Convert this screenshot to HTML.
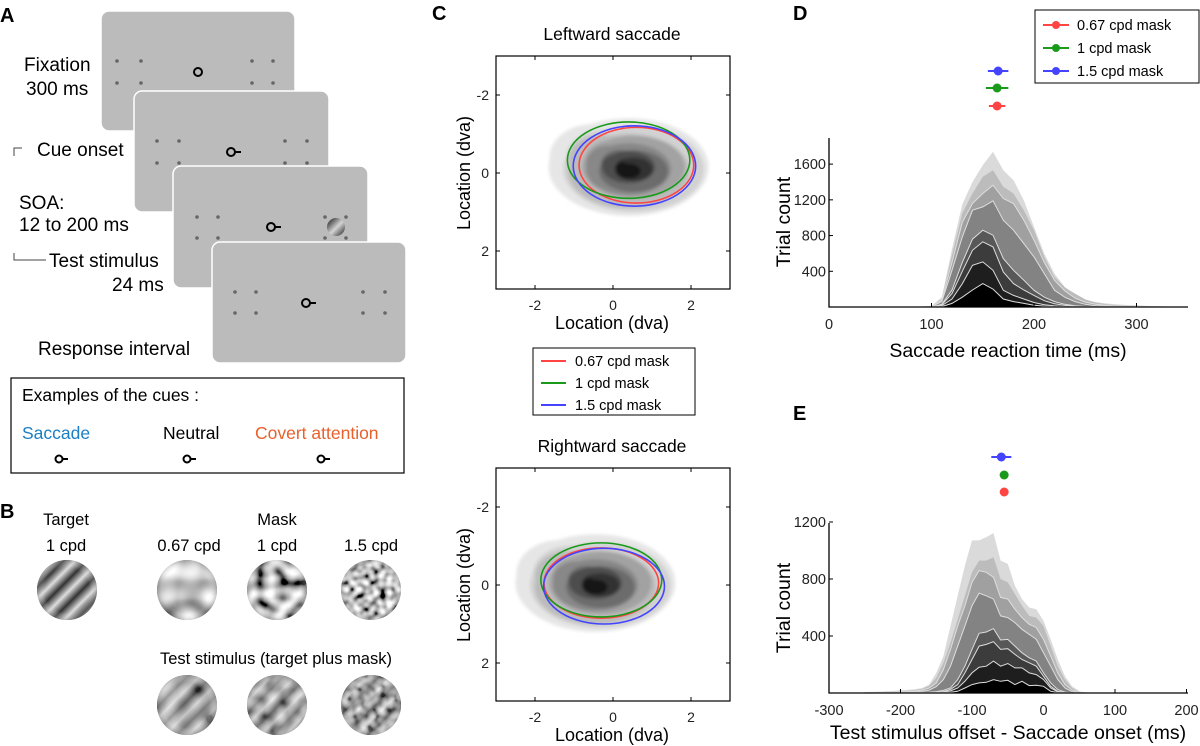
<!DOCTYPE html>
<html><head><meta charset="utf-8"><style>
body{margin:0;background:#fff}
svg{display:block;font-family:"Liberation Sans",sans-serif}
</style></head><body>
<svg id="fig" width="1200" height="746" viewBox="0 0 1200 746" xmlns="http://www.w3.org/2000/svg">
<defs>
<filter id="n1" x="0" y="0" width="100%" height="100%"><feTurbulence type="fractalNoise" baseFrequency="0.05" numOctaves="1" seed="3"/><feColorMatrix type="matrix" values="2.6 0 0 0 -0.8 2.6 0 0 0 -0.8 2.6 0 0 0 -0.8 0 0 0 0 1"/></filter>
<filter id="n2" x="0" y="0" width="100%" height="100%"><feTurbulence type="fractalNoise" baseFrequency="0.09" numOctaves="1" seed="5"/><feColorMatrix type="matrix" values="2.3 0 0 0 -0.65 2.3 0 0 0 -0.65 2.3 0 0 0 -0.65 0 0 0 0 1"/></filter>
<filter id="n3" x="0" y="0" width="100%" height="100%"><feTurbulence type="fractalNoise" baseFrequency="0.15" numOctaves="1" seed="8"/><feColorMatrix type="matrix" values="2.5 0 0 0 -0.75 2.5 0 0 0 -0.75 2.5 0 0 0 -0.75 0 0 0 0 1"/></filter>
<linearGradient id="stripe" gradientUnits="userSpaceOnUse" x1="0" y1="0" x2="12" y2="12" spreadMethod="repeat">
<stop offset="0" stop-color="#333"/><stop offset="0.5" stop-color="#ddd"/><stop offset="1" stop-color="#333"/></linearGradient>
<radialGradient id="vig"><stop offset="0.75" stop-color="#fff" stop-opacity="0"/><stop offset="1" stop-color="#999" stop-opacity="0.4"/></radialGradient>
<filter id="blur3"><feGaussianBlur stdDeviation="1.5"/></filter>
</defs>

<!-- Panel A -->
<g font-size="19">
<text x="0" y="22" font-size="20" font-weight="bold">A</text>
<g><rect x="101" y="11" width="194" height="120" rx="8" fill="#bbb" stroke="#fff" stroke-width="1.5"/></g>
<g><rect x="134" y="91" width="195" height="121" rx="8" fill="#bbb" stroke="#fff" stroke-width="1.5"/></g>
<g><rect x="173" y="166" width="195" height="122" rx="8" fill="#bbb" stroke="#fff" stroke-width="1.5"/></g>
<g><rect x="212" y="242" width="194" height="121" rx="8" fill="#bbb" stroke="#fff" stroke-width="1.5"/></g>
<g id="dots" fill="#666"></g>
<circle cx="198" cy="72" r="4" fill="none" stroke="#000" stroke-width="2"/>
<g stroke="#000" stroke-width="2" fill="none">
<circle cx="231" cy="152" r="4"/><line x1="235" y1="152" x2="241" y2="152"/>
<circle cx="271" cy="227" r="4"/><line x1="275" y1="227" x2="281" y2="227"/>
<circle cx="306" cy="303" r="4"/><line x1="310" y1="303" x2="316" y2="303"/>
</g>
<circle cx="336" cy="227" r="9" fill="url(#stripe)" opacity="0.75"/>
<text x="24" y="71">Fixation</text>
<text x="26" y="95">300 ms</text>
<path d="M14 156 V148 H22" fill="none" stroke="#444" stroke-width="1"/>
<text x="37" y="156">Cue onset</text>
<text x="19" y="209">SOA:</text>
<text x="19" y="231">12 to 200 ms</text>
<path d="M14 253 V260 H46" fill="none" stroke="#444" stroke-width="1"/>
<text x="49" y="267">Test stimulus</text>
<text x="112" y="291">24 ms</text>
<text x="38" y="355">Response interval</text>
<g font-size="17.5">
<rect x="11" y="378" width="393" height="95" fill="#fff" stroke="#000" stroke-width="1.2"/>
<text x="22" y="401">Examples of the cues :</text>
<text x="22" y="439" fill="#1a7fc4">Saccade</text>
<text x="163" y="439">Neutral</text>
<text x="255" y="439" fill="#e8602c">Covert attention</text>
<g stroke="#000" stroke-width="2" fill="none">
<circle cx="59" cy="459" r="3.5"/><line x1="62" y1="459" x2="68" y2="459"/>
<circle cx="187" cy="459" r="3.5"/><line x1="190" y1="459" x2="196" y2="459"/>
<circle cx="321" cy="459" r="3.5"/><line x1="324" y1="459" x2="330" y2="459"/>
</g></g>
</g>

<!-- Panel B -->
<g font-size="16.5" text-anchor="middle">
<text x="0" y="518" font-size="20" font-weight="bold" text-anchor="start">B</text>
<text x="66" y="525">Target</text><text x="66" y="551">1 cpd</text>
<text x="277" y="525">Mask</text>
<text x="189" y="551">0.67 cpd</text><text x="277" y="551">1 cpd</text><text x="371" y="551">1.5 cpd</text>
<text x="276" y="664">Test stimulus (target plus mask)</text>
<g id="stims"></g>
</g>

<!-- Panel C -->
<g font-size="14" fill="#222">
<text x="432" y="20" font-size="20" font-weight="bold" fill="#000">C</text>
<g id="cTop"></g><g id="cBot"></g>
<g font-size="14.5">
<rect x="533" y="348" width="162" height="67" fill="#fff" stroke="#000" stroke-width="1"/>
<line x1="541" y1="361" x2="566" y2="361" stroke="#f44" stroke-width="2"/><text x="575" y="366" fill="#000">0.67 cpd mask</text>
<line x1="541" y1="383" x2="566" y2="383" stroke="#1a9a1a" stroke-width="2"/><text x="575" y="388" fill="#000">1 cpd mask</text>
<line x1="541" y1="405" x2="566" y2="405" stroke="#44f" stroke-width="2"/><text x="575" y="410" fill="#000">1.5 cpd mask</text>
</g>
</g>

<!-- Panel D / E -->
<g><text x="793" y="20" font-size="20" font-weight="bold">D</text><g id="dPlot"></g>
<g font-size="14.5">
<rect x="1035" y="10" width="164" height="73" fill="#fff" stroke="#000" stroke-width="1"/>
<line x1="1043" y1="25" x2="1069" y2="25" stroke="#f44" stroke-width="2"/><circle cx="1056" cy="25" r="4" fill="#f44"/><text x="1077" y="30">0.67 cpd mask</text>
<line x1="1043" y1="48" x2="1069" y2="48" stroke="#1a9a1a" stroke-width="2"/><circle cx="1056" cy="48" r="4" fill="#1a9a1a"/><text x="1077" y="53">1 cpd mask</text>
<line x1="1043" y1="71" x2="1069" y2="71" stroke="#44f" stroke-width="2"/><circle cx="1056" cy="71" r="4" fill="#44f"/><text x="1077" y="76">1.5 cpd mask</text>
</g></g>
<g><text x="793" y="420" font-size="20" font-weight="bold">E</text><g id="ePlot"></g></g>
</svg>
<script>
const NS="http://www.w3.org/2000/svg";
function mk(p,t,a){const e=document.createElementNS(NS,t);for(const k in a)e.setAttribute(k,a[k]);p.appendChild(e);return e;}

// ---- Panel D data ----
const dX=[90,100,110,120,130,140,150,160,170,180,190,200,210,220,230,240,250,260,270,280,290,300,310,320,330,340,350];
const dL1=[0,0,5,40,110,190,262,200,90,60,40,20,10,5,2,0,0,0,0,0,0,0,0,0,0,0,0];
const dL2=[0,0,15,90,260,467,505,411,187,130,90,50,25,12,5,2,0,0,0,0,0,0,0,0,0,0,0];
const dL3=[0,0,25,150,400,635,730,673,392,262,190,130,70,37,18,8,3,1,0,0,0,0,0,0,0,0,0];
const dL4=[0,0,30,190,500,760,860,804,542,411,300,187,110,60,30,15,6,3,1,0,0,0,0,0,0,0,0];
const dL5=[0,5,60,411,785,1084,1121,1189,972,860,710,561,374,187,110,60,30,15,8,4,2,1,0,0,0,0,0];
const dL6=[0,8,80,500,950,1159,1271,1364,1215,1159,972,748,500,299,180,100,55,30,18,10,6,4,2,1,0,0,0];
const dL7=[0,10,95,580,1050,1271,1458,1532,1346,1271,1084,860,561,336,220,150,85,50,30,20,12,8,5,3,1,0,0];
const dL8=[0,15,110,650,1150,1400,1589,1738,1532,1420,1196,897,598,374,224,131,80,56,40,30,22,19,12,8,5,3,0];
const dXTicks=[0,100,200,300];
const dYTicks=[400,800,1200,1600];
const dMeans=[164,164,165]; const dErr=[8,11,10];

// ---- Panel E data ----
const eX=[-250,-240,-230,-220,-210,-200,-190,-180,-170,-160,-150,-140,-130,-120,-110,-100,-90,-80,-70,-60,-50,-40,-30,-20,-10,0,10,20,30,40,50,60];
const eL8=[7,8,10,12,15,19,22,27,35,59,141,259,470,682,894,1071,1071,1094,1122,929,906,753,659,600,588,506,376,235,118,47,12,3];
const eL7=[4,5,6,8,10,12,15,20,28,50,106,212,353,518,682,847,929,929,953,800,776,694,612,541,529,470,329,188,94,35,8,2];
const eL6=[2,3,4,5,6,8,10,14,20,35,71,165,306,470,612,776,859,847,812,671,659,588,529,482,459,376,259,141,59,20,4,1];
const eL5=[1,1,2,3,4,5,6,8,12,20,45,94,188,329,470,612,701,682,659,541,529,494,447,412,376,282,188,94,35,10,2,0];
const eL4=[0,0,0,1,1,2,2,3,4,6,10,18,35,94,188,306,419,428,452,372,376,329,282,247,224,141,71,24,6,1,0,0];
const eL3=[0,0,0,0,1,1,1,2,2,3,5,10,25,59,141,235,329,341,360,306,311,271,235,212,188,118,47,12,3,0,0,0];
const eL2=[0,0,0,0,0,0,1,1,1,2,3,6,15,35,82,141,181,188,224,188,207,176,176,141,129,94,35,8,2,0,0,0];
const eL1=[0,0,0,0,0,0,0,0,0,1,1,2,5,12,35,59,71,75,94,82,89,59,82,52,54,47,12,3,0,0,0,0];
const eXTicks=[-300,-200,-100,0,100,200];
const eYTicks=[400,800,1200];
const eMeans=[-55,-55,-59]; const eErr=[0,6,14];

const colors=["#000","#1e1e1e","#3c3c3c","#585858","#838383","#a0a0a0","#bcbcbc","#dadada"];
const mcol=["#f44","#1a9a1a","#44f"];

function histPanel(g,cfg){
  const sx=v=>cfg.x0+(v-cfg.xmin)*cfg.kx, sy=v=>cfg.base-v*cfg.ky;
  const layers=cfg.layers;
  for(let i=layers.length-1;i>=0;i--){
    let d="M"+sx(cfg.xs[0])+" "+sy(0);
    cfg.xs.forEach((x,j)=>d+=" L"+sx(x).toFixed(1)+" "+sy(layers[i][j]).toFixed(1));
    d+=" L"+sx(cfg.xs[cfg.xs.length-1])+" "+sy(0)+"Z";
    const p=mk(g,"path",{d:d,fill:colors[i],stroke:i<6?"#ddd":"none","stroke-width":1});
    
    
  }
  const ax=mk(g,"path",{d:`M${cfg.x0} ${cfg.top} V${cfg.base} H${cfg.x1}`,fill:"none",stroke:"#000","stroke-width":1.3});
  
  
  cfg.xt.forEach(t=>{mk(g,"line",{x1:sx(t),x2:sx(t),y1:cfg.base,y2:cfg.base-4,stroke:"#000"});
    const tx=mk(g,"text",{x:sx(t),y:cfg.base+22,"text-anchor":"middle","font-size":14.5,fill:"#222"});tx.textContent=t;
    });
  cfg.yt.forEach(t=>{mk(g,"line",{x1:cfg.x0,x2:cfg.x0+4,y1:sy(t),y2:sy(t),stroke:"#000"});
    const tx=mk(g,"text",{x:cfg.x0-3,y:sy(t)+5,"text-anchor":"end","font-size":14.5,fill:"#222"});tx.textContent=t;
    });
  const xl=mk(g,"text",{x:cfg.xlx,y:cfg.base+cfg.xlo,"text-anchor":"middle","font-size":19.5});xl.textContent=cfg.xlab;
  
  const yl=mk(g,"text",{x:0,y:0,"text-anchor":"middle","font-size":19.5,transform:`translate(790 ${cfg.ylY}) rotate(-90)`});yl.textContent="Trial count";
  
  cfg.means.forEach((m,i)=>{const y=cfg.my[i];
    mk(g,"line",{x1:sx(m-cfg.err[i]),x2:sx(m+cfg.err[i]),y1:y,y2:y,stroke:mcol[i],"stroke-width":2});
    const c=mk(g,"circle",{cx:sx(m),cy:y,r:4.5,fill:mcol[i]});
    });
}
histPanel(document.getElementById("dPlot"),{xs:dX,layers:[dL1,dL2,dL3,dL4,dL5,dL6,dL7,dL8],x0:829,x1:1188,xmin:0,kx:1.025,base:307,ky:0.0893,top:138,xt:dXTicks,yt:dYTicks,xlab:"Saccade reaction time (ms)",xlx:1008,xlo:50,ylY:222,means:dMeans,err:dErr,my:[106,88,71]});
histPanel(document.getElementById("ePlot"),{xs:eX,layers:[eL1,eL2,eL3,eL4,eL5,eL6,eL7,eL8],x0:829,x1:1188,xmin:-300,kx:0.715,base:693,ky:0.1425,top:523,xt:eXTicks,yt:eYTicks,xlab:"Test stimulus offset - Saccade onset (ms)",xlx:1008,xlo:46,ylY:608,means:eMeans,err:eErr,my:[492,475,457]});

// ---- Panel C data ----
const cTicks=[-2,0,2];
const topEllX=[0.6,0.4,0.55], topEllY=[-0.2,-0.33,-0.18], topEllRx=[1.47,1.57,1.57], topEllRy=[0.97,0.98,1.03];
const botEllX=[-0.3,-0.3,-0.23], botEllY=[-0.05,-0.13,0.03], botEllRx=[1.47,1.55,1.55], botEllRy=[0.9,0.95,0.97];
const topBlobX=0.45, topBlobY=-0.1, botBlobX=-0.4, botBlobY=0.0;
const densLevels=[1,0.88,0.76,0.64,0.53,0.43,0.33,0.24,0.15];
const densGray=["#e6e6e6","#d2d2d2","#bbbbbb","#a2a2a2","#888","#6c6c6c","#4e4e4e","#303030","#151515"];
function cPanel(g,y0,title,ex,ey,erx,ery,bx,by){
  const k=39, cx=613, cy=y0+117;
  const sx=v=>cx+v*k, sy=v=>cy+v*k;
  const t=mk(g,"text",{x:612,y:y0-16,"text-anchor":"middle","font-size":17.5,fill:"#000"});t.textContent=title;
  
  const dg=mk(g,"g",{filter:"url(#blur3)"});
  
  densLevels.forEach((s,i)=>{
    mk(dg,"ellipse",{cx:sx(bx)+(i%2?3:-2),cy:sy(by)+(i%3-1)*2,rx:2.05*k*s,ry:1.25*k*s,fill:densGray[i]});
    mk(dg,"ellipse",{cx:sx(bx)-0.9*k*s+(i%2?4:-3),cy:sy(by)-0.3*k*s,rx:1.1*k*s,ry:0.85*k*s,fill:densGray[i]});
  });
  ex.forEach((_,i)=>{const e=mk(g,"ellipse",{cx:sx(ex[i]),cy:sy(ey[i]),rx:erx[i]*k,ry:ery[i]*k,fill:"none",stroke:mcol[i],"stroke-width":1.6});
    });
  const b=mk(g,"rect",{x:496,y:y0,width:234,height:233,fill:"none",stroke:"#000","stroke-width":1.2});
  
  cTicks.forEach(v=>{mk(g,"line",{x1:sx(v),x2:sx(v),y1:y0+233,y2:y0+229,stroke:"#000"});mk(g,"line",{x1:sx(v),x2:sx(v),y1:y0,y2:y0+4,stroke:"#000"});
    mk(g,"line",{x1:496,x2:500,y1:sy(v),y2:sy(v),stroke:"#000"});mk(g,"line",{x1:730,x2:726,y1:sy(v),y2:sy(v),stroke:"#000"});
    const a=mk(g,"text",{x:sx(v),y:y0+254,"text-anchor":"middle"});a.textContent=v;
    
    const c=mk(g,"text",{x:489,y:sy(v)+5,"text-anchor":"end"});c.textContent=v;
    });
  const xl=mk(g,"text",{x:612,y:y0+273,"text-anchor":"middle","font-size":18,fill:"#000"});xl.textContent="Location (dva)";
  
  const yl=mk(g,"text",{x:0,y:0,"text-anchor":"middle","font-size":18,fill:"#000",transform:`translate(470 ${cy}) rotate(-90)`});yl.textContent="Location (dva)";
  
}
cPanel(document.getElementById("cTop"),56,"Leftward saccade",topEllX,topEllY,topEllRx,topEllRy,topBlobX,topBlobY);
cPanel(document.getElementById("cBot"),468,"Rightward saccade",botEllX,botEllY,botEllRx,botEllRy,botBlobX,botBlobY);

// dots on screens
const dg=document.getElementById("dots");
[[117,141,252,273,61,83],[157,179,285,307,141,163],[197,218,325,346,217,238],[235,256,363,385,292,313]].forEach(s=>{
  [s[0],s[1],s[2],s[3]].forEach(x=>[s[4],s[5]].forEach(y=>mk(dg,"circle",{cx:x,cy:y,r:1.8})));});

// stimuli
const sg=document.getElementById("stims");
function stim(cx,cy,filt,stripes,name){
  const id="c"+cx+"_"+cy;
  const cp=mk(sg,"clipPath",{id:id});mk(cp,"circle",{cx:cx,cy:cy,r:30});
  const g=mk(sg,"g",{"clip-path":`url(#${id})`});
  
  mk(g,"rect",{x:cx-30,y:cy-30,width:60,height:60,fill:"#888"});
  if(stripes)mk(g,"rect",{x:cx-30,y:cy-30,width:60,height:60,fill:"url(#stripe)"});
  if(filt)mk(g,"rect",{x:cx-30,y:cy-30,width:60,height:60,filter:`url(#${filt})`,opacity:stripes?0.5:1});
  mk(g,"circle",{cx:cx,cy:cy,r:30,fill:"url(#vig)"});
}
stim(67,590,null,true,"target-grating");
stim(187,590,"n1",false,"mask-0.67cpd");
stim(277,590,"n2",false,"mask-1cpd");
stim(371,590,"n3",false,"mask-1.5cpd");
stim(187,705,"n1",true,"test-0.67cpd");
stim(277,705,"n2",true,"test-1cpd");
stim(371,705,"n3",true,"test-1.5cpd");
</script>
</body></html>
